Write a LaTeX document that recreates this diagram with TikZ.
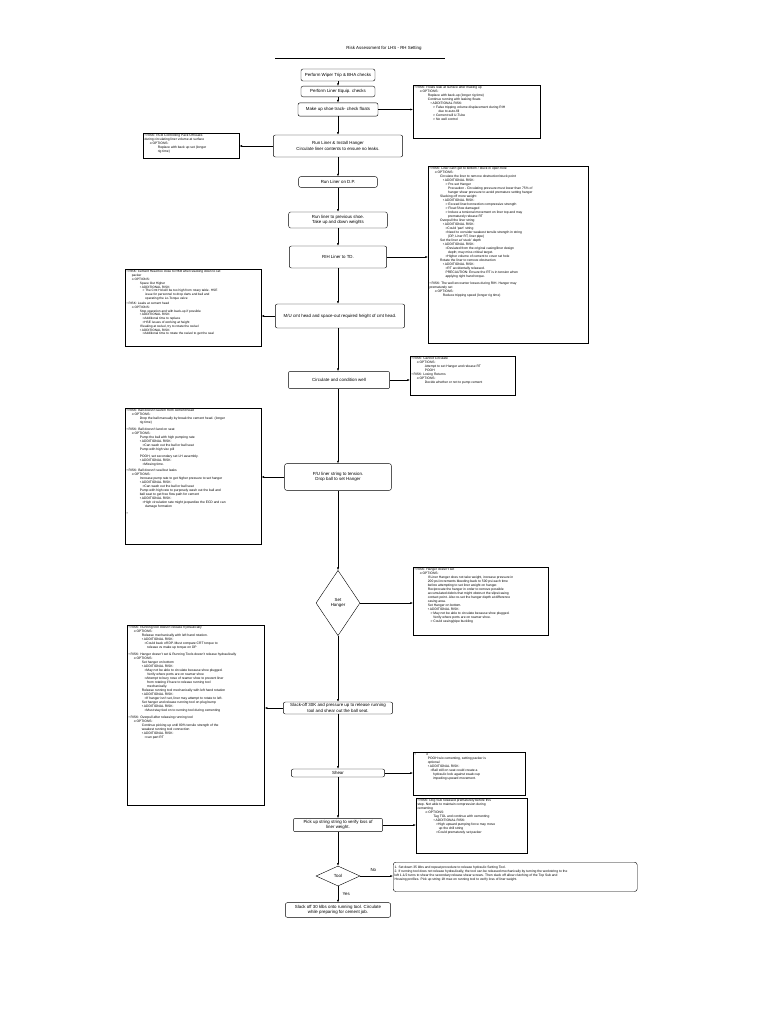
\documentclass[tikz,border=0pt]{standalone}
\usepackage{fontspec}
\setmainfont{Liberation Sans}
\usetikzlibrary{shapes.geometric,arrows.meta}
\newcommand{\rt}[3]{\parbox[t][#2pt][t]{#1pt}{\fontsize{2.5}{3}\selectfont #3}}
\newcommand{\gt}{\textgreater}
\begin{document}
\begin{tikzpicture}[x=0.75pt,y=-0.75pt,
 flow/.style={draw,rounded corners=1.5pt,line width=0.3pt,font=\fontsize{3.3}{4}\selectfont,align=center,inner sep=0.5pt},
 risk/.style={draw,line width=0.3pt,anchor=north west,inner sep=1pt},
 dec/.style={draw,diamond,line width=0.3pt,font=\fontsize{3.3}{4}\selectfont,align=center,inner sep=0pt,minimum width=33pt,minimum height=49pt},
 arr/.style={-{Latex[length=2pt,width=1.6pt]},line width=0.35pt}]
\useasboundingbox[fill=white] (0,0) rectangle (768,1024);
\node[font=\fontsize{3.3}{4}\selectfont] (title) at (384,48) {Risk Assessment for LHS - RH Setting};
\coordinate (l1) at (275,58); \coordinate (l2) at (445,58);
\draw[line width=0.6pt] (l1) -- (l2);

\node[flow,minimum width=55.5pt,minimum height=9pt] (b1) at (338,75) {Perform Wiper Trip \& BHA checks};
\node[flow,minimum width=55.5pt,minimum height=8pt] (b2) at (338,91.5) {Perform Liner Equip. checks};
\node[flow,minimum width=60pt,minimum height=10pt] (b3) at (338,109.5) {Make up shoe track- check floats};
\node[flow,minimum width=97pt,minimum height=16.5pt] (b4) at (338,146) {Run Liner \& Install Hanger\\Circulate liner contents to ensure no leaks.};
\node[flow,minimum width=59pt,minimum height=8pt] (b5) at (338,182) {Run Liner on D.P.};
\node[flow,minimum width=74pt,minimum height=12pt] (b6) at (338,220) {Run liner to previous shoe.\\Take up and down weights};
\node[flow,minimum width=73pt,minimum height=16.5pt] (b7) at (338,257) {RIH Liner to TD.};
\node[flow,minimum width=97pt,minimum height=18pt] (b8) at (340,316) {M/U cmt head and space-out required height of cmt head.};
\node[flow,minimum width=76pt,minimum height=13pt] (b9) at (339,380) {Circulate and condition well};
\node[flow,minimum width=80pt,minimum height=20pt] (b10) at (338,477) {P/U liner string to tension.\\Drop ball to set Hanger};
\node[dec] (d1) at (338,603) {Set\\Hanger};
\node[flow,minimum width=82pt,minimum height=9pt] (b11) at (338,708) {Slack-off 30K and pressure up to release running\\tool and shear out the ball seat.};
\node[flow,minimum width=70pt,minimum height=6pt] (b12) at (338,773) {Shear};
\node[flow,minimum width=67pt,minimum height=10pt] (b13) at (338,825) {Pick up string string to verify loss of\\liner weight.};
\node[dec,minimum width=33pt,minimum height=15pt] (d2) at (338,876) {Tool};
\node[flow,minimum width=79pt,minimum height=11pt] (b14) at (338,910) {Slack off 30 klbs onto running tool.  Circulate\\while preparing for cement job.};

% risk boxes
\node[risk] (r1) at (413,85) {\rt{93}{38}{\textbullet\ RISK: Floats leak at surface after making up\\
\hspace*{4pt}o OPTIONS:\\
\hspace*{10pt}Replace with back-up (longer rig time)\\
\hspace*{10pt}Continue running with leaking floats\\
\hspace*{12pt}\textbullet\ ADDITIONAL RISK:\\
\hspace*{14pt}\gt\ False tripping volume displacement during RIH\\
\hspace*{18pt}due to auto-fill\\
\hspace*{14pt}\gt\ Cement will U-Tube\\
\hspace*{14pt}\gt\ No well control}};
\node[risk] (r2) at (143,133) {\rt{70}{17}{\textbullet\ RISK: RCB Controlling Pack Off leaks\\during circulating liner volume at surface\\
\hspace*{4pt}o OPTIONS:\\
\hspace*{10pt}Replace with back up set (longer\\\hspace*{10pt}rig time)}};
\node[risk] (r3) at (428,166) {\rt{118}{131}{\textbullet\ RISK: Liner can't get to bottom / stuck in open hole\\
\hspace*{4pt}o OPTIONS:\\
\hspace*{8pt}Circulate the liner to remove obstruction/stuck point\\
\hspace*{10pt}\textbullet\ ADDITIONAL RISK:\\
\hspace*{12pt}\gt\ Pre-set Hanger\\
\hspace*{14pt}Precaution - Circulating pressure must lower than 75\% of\\
\hspace*{14pt}hanger shear pressure to avoid premature setting hanger\\
\hspace*{8pt}Slacking off more weight\\
\hspace*{10pt}\textbullet\ ADDITIONAL RISK:\\
\hspace*{12pt}\gt\ Exceed liner/connection compressive strength\\
\hspace*{12pt}\gt\ Float Shoe damaged\\
\hspace*{12pt}\gt\ Induce a torsional movement on liner top and may\\
\hspace*{14pt}prematurely release RT\\
\hspace*{8pt}Overpull the liner string\\
\hspace*{10pt}\textbullet\ ADDITIONAL RISK:\\
\hspace*{12pt}\gt Could 'part' string\\
\hspace*{12pt}\gt Need to consider weakest tensile strength in string\\
\hspace*{14pt}(DP, Liner RT, liner pipe)\\
\hspace*{8pt}Set the liner at 'stuck' depth\\
\hspace*{10pt}\textbullet\ ADDITIONAL RISK:\\
\hspace*{12pt}\gt Deviated from the original casing/liner design\\
\hspace*{14pt}depth; may miss critical target.\\
\hspace*{12pt}\gt Higher volume of cement to cover rat hole\\
\hspace*{8pt}Rotate the liner to remove obstruction\\
\hspace*{10pt}\textbullet\ ADDITIONAL RISK:\\
\hspace*{12pt}\gt RT accidentally released.\\
\hspace*{12pt}PRECAUTION: Ensure the RT is in tension when\\
\hspace*{12pt}applying right hand torque.\\[2pt]
\textbullet\ RISK: The well encounter losses during RIH. Hanger may\\
prematurely set\\
\hspace*{4pt}o OPTIONS:\\
\hspace*{10pt}Reduce tripping speed (longer rig time)}};
\node[risk] (r4) at (125,269) {\rt{100}{56}{\fontsize{2.4}{2.85}\selectfont\textbullet\ RISK: Cement Head too close to RKB when slacking down to set\\\hspace*{4pt}packer\\
\hspace*{4pt}o OPTIONS:\\
\hspace*{10pt}Space Out Higher\\
\hspace*{10pt}\textbullet\ ADDITIONAL RISK:\\
\hspace*{12pt}\gt\ The Cmt Hd will be too high from rotary table. HSE\\
\hspace*{14pt}issue for personnel to drop darts and ball and\\
\hspace*{14pt}operating the Lo-Torque valve\\[1pt]
\textbullet\ RISK: Leaks at cement head\\
\hspace*{4pt}o OPTIONS:\\
\hspace*{10pt}Stop operation and with back-up if possible\\
\hspace*{10pt}\textbullet\ ADDITIONAL RISK:\\
\hspace*{12pt}\gt Additional time to replace\\
\hspace*{12pt}\gt HSE issues of working at height\\
\hspace*{10pt}If leaking at swivel, try to rotate the swivel\\
\hspace*{10pt}\textbullet\ ADDITIONAL RISK:\\
\hspace*{12pt}\gt Additional time to rotate the swivel to get the seal}};
\node[risk] (r5) at (410,356) {\rt{77}{27}{\textbullet\ RISK: Cannot Circulate\\
\hspace*{4pt}o OPTIONS:\\
\hspace*{10pt}Attempt to set Hanger and release RT\\
\hspace*{10pt}POOH\\
\textbullet\ RISK: Losing Returns\\
\hspace*{4pt}o OPTIONS:\\
\hspace*{10pt}Decide whether or not to pump cement}};
\node[risk] (r6) at (125,408) {\rt{100}{100}{\textbullet\ RISK: Ball doesn't launch from cement head\\
\hspace*{4pt}o OPTIONS:\\
\hspace*{10pt}Drop the ball manually by break the cement head. (longer\\\hspace*{10pt}rig time)\\[2pt]
\textbullet\ RISK: Ball doesn't land on seat\\
\hspace*{4pt}o OPTIONS:\\
\hspace*{10pt}Pump the ball with high pumping rate\\
\hspace*{10pt}\textbullet\ ADDITIONAL RISK:\\
\hspace*{12pt}\gt Can wash out the ball or ball seat\\
\hspace*{10pt}Pump with high visc pill\\[2pt]
\hspace*{10pt}POOH, set secondary set LH assembly.\\
\hspace*{10pt}\textbullet\ ADDITIONAL RISK:\\
\hspace*{12pt}\gt Missing time.\\[2pt]
\textbullet\ RISK: Ball doesn't seal but leaks\\
\hspace*{4pt}o OPTIONS:\\
\hspace*{10pt}Increase pump rate to get higher pressure to set hanger\\
\hspace*{10pt}\textbullet\ ADDITIONAL RISK:\\
\hspace*{12pt}\gt Can wash out the ball or ball seat\\
\hspace*{10pt}Pump with high rate to purposely wash out the ball and\\
\hspace*{10pt}ball seat to get free flow path for cement\\
\hspace*{10pt}\textbullet\ ADDITIONAL RISK:\\
\hspace*{12pt}\gt High circulation rate might jeopardize the ECD and can\\
\hspace*{14pt}damage formation\\[2pt]
\textbullet}};
\node[risk] (r7) at (413,567) {\rt{99}{49}{\textbullet\ RISK: Hanger doesn't set\\
\hspace*{4pt}o OPTIONS:\\
\hspace*{10pt}If Liner Hanger does not take weight, increase pressure in\\
\hspace*{10pt}200 psi increments bleeding back to 500 psi each time\\
\hspace*{10pt}before attempting to set liner weight on hanger.\\
\hspace*{10pt}Reciprocate the hanger in order to remove possible\\
\hspace*{10pt}accumulated debris that might obstruct the slips/casing\\
\hspace*{10pt}contact point. Also re-set the hanger depth at difference\\
\hspace*{10pt}casing area.\\
\hspace*{10pt}Set Hanger on bottom.\\
\hspace*{10pt}\textbullet\ ADDITIONAL RISK:\\
\hspace*{12pt}\gt\ May not be able to circulate because shoe plugged.\\
\hspace*{14pt}Verify where ports are on reamer shoe.\\
\hspace*{12pt}\gt\ Could casing/pipe buckling}};
\node[risk] (r8) at (127,625) {\rt{101}{133}{\textbullet\ RISK: Running tool doesn't release hydraulically\\
\hspace*{4pt}o OPTIONS:\\
\hspace*{10pt}Release mechanically with left hand rotation.\\
\hspace*{10pt}\textbullet\ ADDITIONAL RISK:\\
\hspace*{12pt}\gt Could back off DP. Must compare CRT torque to\\
\hspace*{14pt}release vs make up torque on DP\\[2pt]
\textbullet\ RISK: Hanger doesn't set \& Running Tools doesn't release hydraulically\\
\hspace*{4pt}o OPTIONS:\\
\hspace*{10pt}Set hanger on bottom\\
\hspace*{10pt}\textbullet\ ADDITIONAL RISK:\\
\hspace*{12pt}\gt May not be able to circulate because shoe plugged.\\
\hspace*{14pt}Verify where ports are on reamer shoe\\
\hspace*{12pt}\gt Attempt to bury nose of reamer shoe to prevent liner\\
\hspace*{14pt}from rotating if have to release running tool\\
\hspace*{14pt}mechanically.\\
\hspace*{10pt}Release running tool mechanically with left hand rotation\\
\hspace*{10pt}\textbullet\ ADDITIONAL RISK:\\
\hspace*{12pt}\gt If hanger isn't set, liner may attempt to rotate to left.\\
\hspace*{10pt}Set hanger and release running tool on plug bump\\
\hspace*{10pt}\textbullet\ ADDITIONAL RISK:\\
\hspace*{12pt}\gt Must stay tied on to running tool during cementing\\[2pt]
\textbullet\ RISK: Overpull after releasing running tool\\
\hspace*{4pt}o OPTIONS:\\
\hspace*{10pt}Continue picking up until 80\% tensile strength of the\\
\hspace*{10pt}weakest running tool connection\\
\hspace*{10pt}\textbullet\ ADDITIONAL RISK:\\
\hspace*{12pt}\gt can part RT}};
\node[risk] (r9) at (413,752) {\rt{82}{30}{\textbullet\hspace*{8pt}o\\
\hspace*{10pt}POOH w/o cementing, setting packer is\\
\hspace*{10pt}optional\\
\hspace*{10pt}\textbullet\ ADDITIONAL RISK:\\
\hspace*{12pt}\gt Ball still on seat could create a\\
\hspace*{14pt}hydraulic lock against swab cup\\
\hspace*{14pt}impeding upward movement.}};
\node[risk] (r10) at (416,798) {\rt{81}{39}{\textbullet\ RISK: Dog Sub released prematurely before this\\
step. Not able to maintain compression during\\
cementing\\
\hspace*{6pt}o OPTIONS:\\
\hspace*{12pt}Tag TOL and continue with cementing\\
\hspace*{12pt}\textbullet\ ADDITIONAL RISK:\\
\hspace*{14pt}\gt High upward pumping force may move\\
\hspace*{16pt}up the drill string\\
\hspace*{14pt}\gt Could prematurely set packer}};
\node[risk,rounded corners=2pt] (r11) at (393,862) {\rt{181}{20}{\vspace*{2pt}1. Set down 35 klbs and repeat procedure to release hydraulic Setting Tool.\\
2. If running  tool does not release hydraulically, the tool can be released mechanically by turning the workstring to the\\
left 1-1/2 turns to shear the secondary release shear screws.  Then slack off allow clutching of the Top Sub and\\
Housing profiles.  Pick up string 1ft max on running tool to verify loss of liner weight.}};

% connectors
\begin{scope}[arr]
\draw (b1) -- (b2); \draw (b2) -- (b3); \draw (b3) -- (b4);
\draw (b4) -- (b5); \draw (b5) -- (b6); \draw (b6) -- (b7);
\draw (b7.south) -- (b7.south |- b8.north); \draw (b8.south -| b7.south) -- (b7.south |- b9.north);
\draw (b9.south -| b7.south) -- (b10.north);
\draw (b10) -- (d1); \draw (d1) -- (b11); \draw (b11) -- (b12);
\draw (b12) -- (b13); \draw (b13) -- (d2); \draw (d2) -- node[right,font=\fontsize{3.3}{4}\selectfont]{Yes} (b14);
\draw (b3.east) -- (b3.east -| r1.west);
\draw (b4.west) -- (b4.west -| r2.east);
\draw (b7.east) -- (b7.east -| r3.west);
\draw (b8.west) -- (b8.west -| r4.east);
\draw (b9.east) -- (b9.east -| r5.west);
\draw (b10.west) -- (b10.west -| r6.east);
\draw (d1.east) -- (d1.east -| r7.west);
\draw (b11.west) -- (b11.west -| r8.east);
\draw (b12.east) -- (b12.east -| r9.west);
\draw (b13.east) -- (b13.east -| r10.west);
\draw (d2.east) -- node[above,pos=0.4,font=\fontsize{3.3}{4}\selectfont]{No} (d2.east -| r11.west);
\end{scope}
\end{tikzpicture}
\end{document}
